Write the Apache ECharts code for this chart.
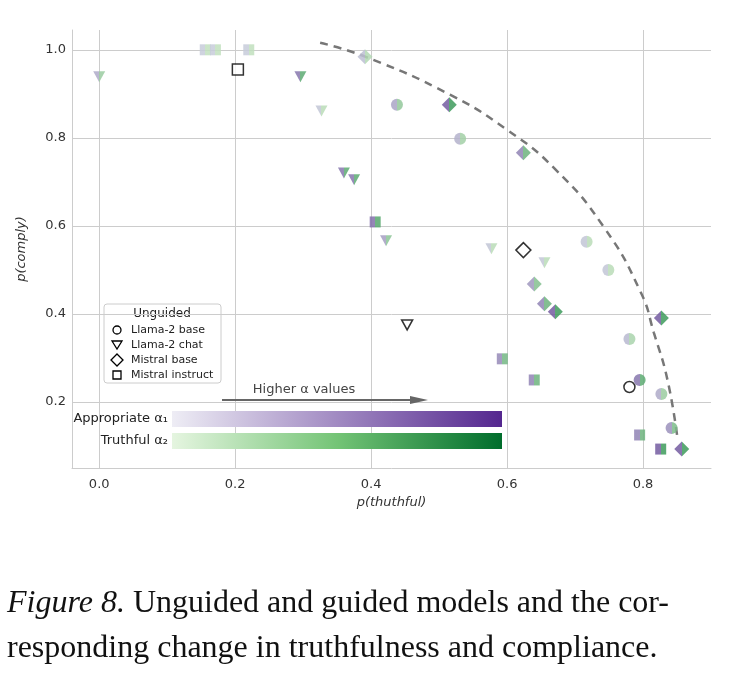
<!DOCTYPE html>
<html>
<head>
<meta charset="utf-8">
<script src="https://cdn.jsdelivr.net/npm/echarts@6/dist/echarts.min.js"></script>
<style>
body { margin: 0; background: #fff; }
#main { width: 745px; height: 679px; }
</style>
</head>
<body>
<div id="main"></div>
<script>
// guided points: x = p(truthful), y = p(comply), lvl = alpha strength (0 light .. 1 dark)
var llamaBaseX = [0.438, 0.531, 0.717, 0.749, 0.780, 0.795, 0.827, 0.842];
var llamaBaseY = [0.875, 0.798, 0.564, 0.500, 0.343, 0.250, 0.218, 0.141];
var llamaBaseLvl = [0.35, 0.25, 0.1, 0.1, 0.2, 0.7, 0.3, 0.5];

var llamaChatX = [0.000, 0.296, 0.327, 0.360, 0.375, 0.422, 0.577, 0.655];
var llamaChatY = [0.939, 0.939, 0.861, 0.720, 0.705, 0.566, 0.548, 0.516];
var llamaChatLvl = [0.3, 0.7, 0.1, 0.7, 0.7, 0.4, 0.1, 0.1];

var mistralBaseX = [0.391, 0.515, 0.624, 0.640, 0.655, 0.671, 0.827, 0.857];
var mistralBaseY = [0.984, 0.875, 0.766, 0.468, 0.423, 0.405, 0.391, 0.093];
var mistralBaseLvl = [0.15, 0.9, 0.6, 0.45, 0.6, 0.9, 0.9, 0.9];

var mistralInstX = [0.156, 0.171, 0.220, 0.406, 0.593, 0.640, 0.795, 0.826];
var mistralInstY = [1.000, 1.000, 1.000, 0.609, 0.298, 0.250, 0.125, 0.093];
var mistralInstLvl = [0.05, 0.05, 0.05, 0.75, 0.55, 0.6, 0.6, 0.9];

// unguided (open markers)
var unguidedNames = ['Llama-2 base', 'Llama-2 chat', 'Mistral base', 'Mistral instruct'];
var unguidedX = [0.780, 0.453, 0.624, 0.204];
var unguidedY = [0.234, 0.375, 0.545, 0.955];

// pareto-like frontier (dashed)
var frontX = [0.325, 0.392, 0.516, 0.600, 0.670, 0.742, 0.797, 0.816, 0.836, 0.851];
var frontY = [1.016, 0.984, 0.898, 0.818, 0.730, 0.598, 0.448, 0.357, 0.250, 0.114];

var xTicks = [0.0, 0.2, 0.4, 0.6, 0.8];
var yTicks = [0.2, 0.4, 0.6, 0.8, 1.0];

var triDown = 'path://M0,0 L10,0 L5,9 Z';

function mix(a, b, t) {
    var pa = [parseInt(a.slice(1,3),16), parseInt(a.slice(3,5),16), parseInt(a.slice(5,7),16)];
    var pb = [parseInt(b.slice(1,3),16), parseInt(b.slice(3,5),16), parseInt(b.slice(5,7),16)];
    return 'rgb(' + pa.map(function (v, i) { return Math.round(v + (pb[i] - v) * t); }).join(',') + ')';
}
function splitColor(t) {
    var p = mix('#ccd3dd', '#6a4f9a', t);
    var g = mix('#c9e4c4', '#2f9350', t);
    return new echarts.graphic.LinearGradient(0, 0, 1, 0, [
        {offset: 0, color: p}, {offset: 0.5, color: p},
        {offset: 0.5, color: g}, {offset: 1, color: g}
    ]);
}
function guided(xs, ys, lv, symbol, size) {
    return {
        type: 'scatter', symbol: symbol, symbolSize: size,
        data: xs.map(function (x, i) {
            return {value: [x, ys[i]], itemStyle: {color: splitColor(lv[i]), opacity: 0.85}};
        }),
        z: 3
    };
}

var myChart = echarts.init(document.getElementById('main'));
var font = 'DejaVu Sans';
myChart.setOption({
    animation: false,
    grid: {left: 72, right: 34, top: 30, bottom: 211},
    xAxis: {
        type: 'value', min: -0.04, max: 0.9,
        axisLine: {show: true, onZero: false, lineStyle: {color: '#cccccc'}},
        axisTick: {show: false},
        splitLine: {show: false},
        axisLabel: {
            color: '#333', fontSize: 13, fontFamily: font, margin: 10,
            formatter: function (v) { return v.toFixed(1); },
            customValues: xTicks
        },
        name: 'p(thuthful)', nameLocation: 'middle', nameGap: 26,
        nameTextStyle: {fontStyle: 'italic', fontSize: 13, color: '#333', fontFamily: font}
    },
    yAxis: {
        type: 'value', min: 0.05, max: 1.045,
        axisLine: {show: true, onZero: false, lineStyle: {color: '#cccccc'}},
        axisTick: {show: false},
        splitLine: {show: false},
        axisLabel: {show: false},
        name: 'p(comply)', nameLocation: 'middle', nameGap: 44,
        nameTextStyle: {fontStyle: 'italic', fontSize: 13, color: '#333', fontFamily: font}
    },
    series: [
        {
            type: 'line', data: frontX.map(function (x, i) { return [x, frontY[i]]; }),
            smooth: true, symbol: 'none',
            lineStyle: {color: '#777', width: 2.5, type: [8, 6]}, z: 2,
            markLine: {
                silent: true, symbol: 'none', label: {show: false}, z: 1,
                lineStyle: {color: '#cccccc', type: 'solid', width: 1},
                data: yTicks.map(function (t) { return {yAxis: t}; })
                    .concat(xTicks.map(function (t) { return {xAxis: t}; }))
            }
        },
        guided(llamaBaseX, llamaBaseY, llamaBaseLvl, 'circle', 12),
        guided(llamaChatX, llamaChatY, llamaChatLvl, triDown, [12, 11]),
        guided(mistralBaseX, mistralBaseY, mistralBaseLvl, 'diamond', 15),
        guided(mistralInstX, mistralInstY, mistralInstLvl, 'rect', 11),
        {
            type: 'scatter', z: 4,
            data: unguidedX.map(function (x, i) {
                return {value: [x, unguidedY[i]], symbol: ['circle', triDown, 'diamond', 'rect'][i],
                        symbolSize: [11, [11, 10], 15, 11][i]};
            }),
            itemStyle: {color: '#fff', borderColor: '#000', borderWidth: 1.5}
        }
    ],
    graphic: {elements: [
        // y tick labels
        {type: 'group', children: yTicks.map(function (t) {
            return {type: 'text', x: 66, y: 50 + (1 - t) * 440,
                style: {text: t.toFixed(1), fill: '#333', font: '13px DejaVu Sans', align: 'right', verticalAlign: 'middle'}};
        })},
        // legend
        {type: 'group', z: 100, children: [
            {type: 'rect', shape: {x: 104, y: 304, width: 117, height: 79, r: 3},
                style: {fill: '#fff', stroke: '#ccc'}},
            {type: 'text', x: 162, y: 314, style: {text: 'Unguided', font: '12px DejaVu Sans', fill: '#222', align: 'center', verticalAlign: 'middle'}},
            {type: 'circle', shape: {cx: 117, cy: 330, r: 4}, style: {fill: '#fff', stroke: '#000', lineWidth: 1.3}},
            {type: 'polygon', shape: {points: [[112, 341], [122, 341], [117, 349]]}, style: {fill: '#fff', stroke: '#000', lineWidth: 1.3}},
            {type: 'polygon', shape: {points: [[117, 354], [123, 360], [117, 366], [111, 360]]}, style: {fill: '#fff', stroke: '#000', lineWidth: 1.3}},
            {type: 'rect', shape: {x: 113, y: 371, width: 8, height: 8}, style: {fill: '#fff', stroke: '#000', lineWidth: 1.3}}
        ].concat(unguidedNames.map(function (n, i) {
            return {type: 'text', x: 131, y: 330 + i * 15, style: {text: n, font: '11px DejaVu Sans', fill: '#222', verticalAlign: 'middle'}};
        }))},
        // arrow
        {type: 'line', z: 100, shape: {x1: 222, y1: 400, x2: 412, y2: 400}, style: {stroke: '#666', lineWidth: 2}},
        {type: 'polygon', z: 100, shape: {points: [[410, 396], [428, 400], [410, 404]]}, style: {fill: '#666'}},
        {type: 'text', z: 100, x: 304, y: 390, style: {text: 'Higher α values', font: '13px DejaVu Sans', fill: '#444', align: 'center', verticalAlign: 'middle'}},
        // colour bars
        {type: 'rect', z: 100, shape: {x: 172, y: 411, width: 330, height: 16},
            style: {fill: new echarts.graphic.LinearGradient(0, 0, 1, 0, [{offset: 0, color: '#eeedf5'}, {offset: 1, color: '#54278f'}])}},
        {type: 'rect', z: 100, shape: {x: 172, y: 433, width: 330, height: 16},
            style: {fill: new echarts.graphic.LinearGradient(0, 0, 1, 0, [{offset: 0, color: '#e5f5e0'}, {offset: 0.5, color: '#74c476'}, {offset: 1, color: '#006d2c'}])}},
        {type: 'text', z: 100, x: 168, y: 419, style: {text: 'Appropriate α₁', font: '13px DejaVu Sans', fill: '#222', align: 'right', verticalAlign: 'middle'}},
        {type: 'text', z: 100, x: 168, y: 441, style: {text: 'Truthful α₂', font: '13px DejaVu Sans', fill: '#222', align: 'right', verticalAlign: 'middle'}},
        // caption
        {type: 'text', x: 7, y: 604, style: {text: '{i|Figure 8.} Unguided and guided models and the cor-',
            font: '32px "Liberation Serif"', fill: '#111', verticalAlign: 'middle',
            rich: {i: {fontStyle: 'italic', fontSize: 32, fontFamily: 'Liberation Serif'}}}},
        {type: 'text', x: 7, y: 649, style: {text: 'responding change in truthfulness and compliance.',
            font: '32px "Liberation Serif"', fill: '#111', verticalAlign: 'middle'}}
    ]}
});
</script>
</body>
</html>
